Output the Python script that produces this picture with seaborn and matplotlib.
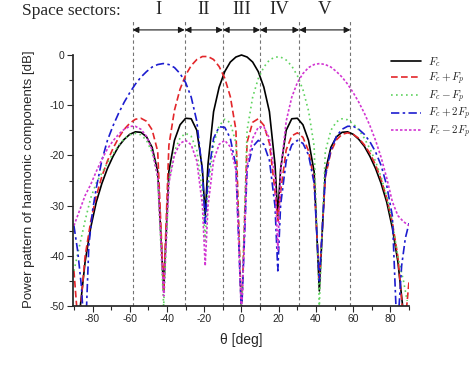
# %%
import matplotlib
matplotlib.use('Agg')
import numpy as np
import pandas as pd
import matplotlib.pyplot as plt
import seaborn as sns
from matplotlib.ticker import MultipleLocator

# values (theta in deg, level in dB)
theta_fc = [-88, -84, -81, -78, -75, -72, -69, -66, -63, -60, -57, -54, -51, -48, -45, -41.8, -39, -36, -33, -30,
            -27, -24, -21, -19.5, -18, -15, -12, -9, -6, -3, 0, 3, 6, 9, 12, 15, 18, 19.5, 21, 24,
            27, 30, 33, 36, 39, 41.8, 45, 48, 51, 54, 57, 60, 63, 66, 69, 72, 75, 78, 81, 84, 88]
db_fc = [-55, -41.2, -34.4, -29.3, -25.6, -22.6, -20.2, -18.2, -16.8, -15.8, -15.3, -15.4, -16.3, -18.4, -23.2, -47, -23.2, -17.0, -13.9, -12.6,
         -12.7, -15.0, -22.7, -32, -21.8, -11.3, -6.4, -3.3, -1.4, -0.4, 0, -0.4, -1.4, -3.3, -6.4, -11.3, -21.8, -32, -22.7, -15.0,
         -12.7, -12.6, -13.9, -17.0, -23.2, -47, -23.2, -18.4, -16.3, -15.4, -15.3, -15.8, -16.8, -18.2, -20.2, -22.6, -25.6, -29.3, -34.4, -41.2, -55]

theta_sum1 = [-90, -87.5, -84, -81, -78, -75, -72, -69, -66, -63, -60, -57, -54, -51, -48, -45, -41.8, -39, -36, -33,
              -30, -27, -24, -21, -18, -15, -12, -9, -6, -3, 0, 3, 6, 9, 12, 15, 18, 19.5, 21, 24,
              27, 30, 33, 36, 39, 41.8, 45, 48, 51, 54, 57, 60, 63, 66, 69, 72, 75, 78, 81, 84, 87.5, 90]
db_sum1 = [-43, -55, -40.1, -33.2, -28.1, -24.2, -21.1, -18.6, -16.5, -14.8, -13.6, -12.8, -12.6, -13.2, -14.9, -19.2, -47, -18.0, -11.0, -6.8,
           -4.0, -2.1, -0.9, -0.3, -0.3, -0.9, -2.3, -4.6, -8.3, -14.9, -52, -17.4, -13.4, -12.7, -14.0, -17.6, -27.1, -33, -27.3, -18.9,
           -16.1, -15.5, -16.4, -19.1, -25.0, -45, -24.4, -19.3, -16.9, -15.8, -15.5, -15.8, -16.6, -17.9, -19.6, -21.9, -24.8, -28.5, -33.3, -40.2, -55, -45]

theta_dif1 = [-90, -87, -84, -81, -78, -75, -72, -69, -66, -63, -60, -57, -54, -51, -48, -45, -41.8, -39, -36, -33,
              -30, -27, -24, -21, -19.5, -18, -15, -12, -9, -6, -3, 0, 3, 6, 9, 12, 15, 18, 21, 24,
              27, 30, 33, 36, 39, 41.8, 45, 48, 51, 54, 57, 60, 63, 66, 69, 72, 75, 78, 81, 84, 87, 89]
db_dif1 = [-43, -38, -33, -28.5, -25.5, -23.5, -21.5, -19.7, -18.0, -16.7, -15.9, -15.6, -15.9, -17.0, -19.4, -24.5, -50, -25.1, -19.2, -16.5,
           -15.6, -16.2, -19.0, -27.4, -37, -27.2, -17.7, -14.1, -12.8, -13.5, -17.5, -52, -15.0, -8.4, -4.7, -2.4, -1.0, -0.4, -0.4, -1.0,
           -2.2, -4.1, -6.9, -11.1, -18.1, -50, -19.3, -15.0, -13.3, -12.7, -12.9, -13.7, -14.9, -16.6, -18.7, -21.2, -24.3, -28.2, -33.3, -40.2, -45, -49]

theta_sum2 = [-90, -88, -86, -84, -82, -80, -78, -75, -72, -69, -66, -63, -60, -57, -54, -51, -48, -45, -42, -39,
              -36, -33, -30, -27, -24, -21, -19.5, -18, -15, -12, -9, -6, -3, 0, 3, 6, 9, 12, 15, 18,
              19.5, 21, 24, 27, 30, 33, 36, 39, 41.8, 45, 48, 51, 54, 57, 60, 63, 66, 69, 72, 75,
              78, 81, 83.6, 86, 88, 90]
db_sum2 = [-34, -39, -46, -58, -38, -31, -26.5, -21.0, -17.0, -14.1, -11.6, -9.4, -7.5, -5.8, -4.4, -3.3, -2.4, -1.9, -1.7, -1.9,
           -2.5, -3.7, -5.5, -8.4, -13.2, -23.3, -33.5, -24.6, -16.6, -14.3, -14.4, -16.6, -22.1, -52, -22.9, -18.3, -17.0, -17.8, -21.0, -30.1,
           -43, -29.9, -21.1, -17.9, -17.0, -17.6, -19.9, -25.5, -45, -24.2, -18.9, -16.2, -14.8, -14.2, -14.2, -14.8, -15.8, -17.3, -19.3, -22.0,
           -26, -32, -56, -42, -36.5, -33.5]

theta_dif2 = [-90, -87, -84, -81, -78, -75, -72, -69, -66, -63, -60, -57, -54, -51, -48, -45, -41.8, -39, -36, -33,
              -30, -27, -24, -21, -19.5, -18, -15, -12, -9, -6, -3, 0, 3, 6, 9, 12, 15, 18, 19.5, 21,
              24, 27, 30, 33, 36, 39, 42, 45, 48, 51, 54, 57, 60, 63, 66, 69, 72, 75, 78, 81, 84, 87, 90]
db_dif2 = [-34, -31, -28, -25.8, -23.2, -20.8, -18.7, -17.1, -15.8, -14.8, -14.2, -14.2, -14.8, -16.2, -18.9, -24.2, -48, -25.5, -19.9, -17.6,
           -17.0, -17.9, -21.1, -29.9, -42, -30.1, -21.0, -17.8, -17.0, -18.3, -22.9, -52, -22.1, -16.6, -14.4, -14.3, -16.6, -24.6, -39, -23.3,
           -13.2, -8.4, -5.5, -3.7, -2.5, -1.9, -1.7, -1.9, -2.4, -3.3, -4.4, -5.8, -7.5, -9.4, -11.6, -14.1, -17.0, -20.4, -24.5, -29.2, -32, -33.2, -34]

names = ['$F_c$', '$F_c+F_p$', '$F_c-F_p$', '$F_c+2F_p$', '$F_c-2F_p$']
sector_edges = [-58.5, -30.5, -10, 10, 31, 58.5]
sector_names = ['I', 'II', 'III', 'IV', 'V']

# %%
df = pd.concat([
    pd.DataFrame({'theta': t, 'db': d, 'harmonic': n})
    for t, d, n in zip([theta_fc, theta_sum1, theta_dif1, theta_sum2, theta_dif2],
                       [db_fc, db_sum1, db_dif1, db_sum2, db_dif2], names)
], ignore_index=True)

sns.set_theme(style='ticks')
plt.rcParams['font.family'] = ['Liberation Sans', 'DejaVu Sans']
plt.rcParams['mathtext.fontset'] = 'cm'
plt.rcParams['axes.unicode_minus'] = False

colors = ['black', '#e3262a', '#5fd35f', '#1c1ccf', '#d236d2']
line_dashes = ['', (4, 2), (1, 2), (5, 2, 1.5, 2), (1.5, 1.2)]

fig = plt.figure(figsize=(4.74, 3.75), dpi=100)
ax = fig.add_axes([0.154, 0.184, 0.709, 0.676])

sns.lineplot(data=df, x='theta', y='db', hue='harmonic', style='harmonic',
             hue_order=names, style_order=names,
             palette=dict(zip(names, colors)), dashes=dict(zip(names, line_dashes)),
             estimator=None, sort=False, lw=1.2, ax=ax)

ax.set_xlim(-90.5, 90)
ax.set_ylim(-50, 0.5)
sns.despine(ax=ax)
ax.spines['left'].set_bounds(-50, 0)
ax.xaxis.set_major_locator(MultipleLocator(20))
ax.xaxis.set_minor_locator(MultipleLocator(10))
ax.yaxis.set_major_locator(MultipleLocator(10))
ax.yaxis.set_minor_locator(MultipleLocator(5))
ax.tick_params(which='major', direction='out', length=4, width=0.8, labelsize=7.5, pad=2)
ax.tick_params(which='minor', direction='out', length=3, width=0.8)

ax.set_xlabel('θ [deg]', fontsize=10)
ax.set_ylabel('Power pattern of harmonic components [dB]', fontsize=9.5)
ax.xaxis.set_label_coords(0.5, -0.105)
ax.yaxis.set_label_coords(-0.113, 0.5)

# space sectors
ax.vlines(sector_edges, -50, 7, colors='0.45', linestyles=(0, (3, 2.5)), lw=0.8, clip_on=False, zorder=1)
for a, b, name in zip(sector_edges[:-1], sector_edges[1:], sector_names):
    ax.annotate('', xy=(b, 5), xytext=(a, 5), xycoords='data',
                arrowprops=dict(arrowstyle='<|-|>', color='k', lw=0.8, shrinkA=0, shrinkB=0, mutation_scale=9),
                annotation_clip=False)
    ax.text((a + b) / 2, 9.1, name, ha='center', va='center', family='Liberation Serif', fontsize=13.5, clip_on=False)
fig.text(0.046, 1 - 11 / 375, 'Space sectors:', family='Liberation Serif', fontsize=12.5, va='center', ha='left')

sns.move_legend(ax, 'upper left', bbox_to_anchor=(391 / 474, 1 - 55 / 375), bbox_transform=fig.transFigure,
                frameon=False, title=None, fontsize=8, handlelength=2.7, handletextpad=0.6,
                labelspacing=0.12, borderaxespad=0, borderpad=0)

fig.savefig('out.png', dpi=100)
